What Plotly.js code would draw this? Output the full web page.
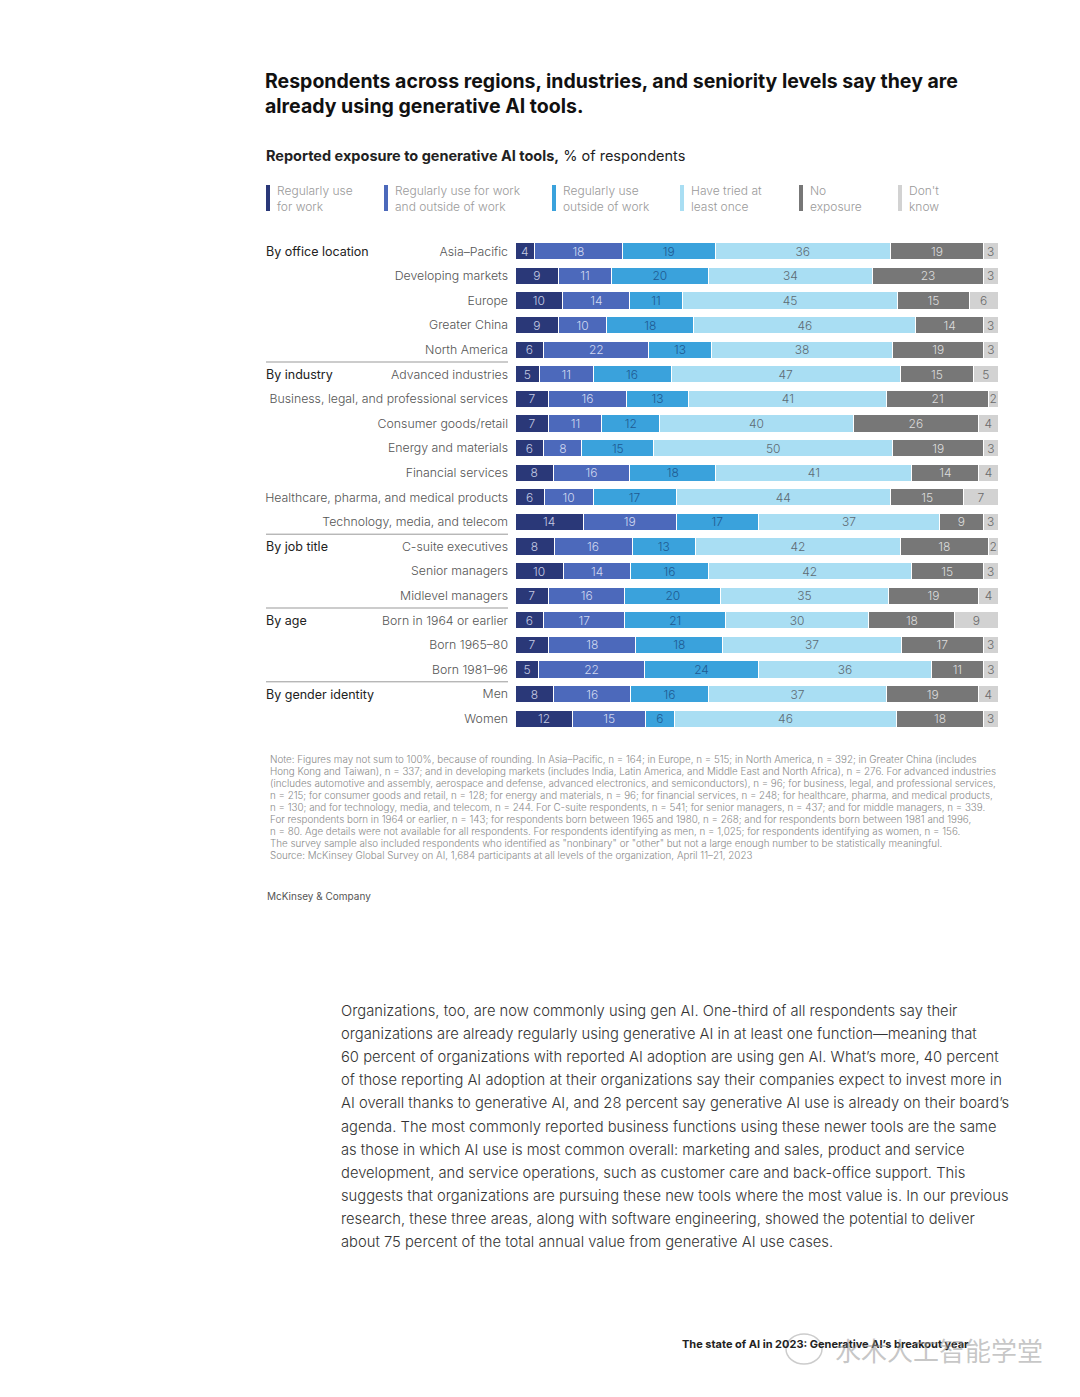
<!DOCTYPE html>
<html>
<head>
<meta charset="utf-8">
<script src="https://cdn.plot.ly/plotly-3.0.1.min.js"></script>
<style>html,body{margin:0;padding:0;background:#fff;}#chart{width:1080px;height:1397px;}</style>
</head>
<body>
<div id="chart"></div>
<script>
// ---------- DATA ----------
const categories = [
  "Asia–Pacific","Developing markets","Europe","Greater China","North America",
  "Advanced industries","Business, legal, and professional services","Consumer goods/retail",
  "Energy and materials","Financial services","Healthcare, pharma, and medical products",
  "Technology, media, and telecom",
  "C-suite executives","Senior managers","Midlevel managers",
  "Born in 1964 or earlier","Born 1965–80","Born 1981–96",
  "Men","Women"
];
const seriesNames = ["Regularly use<br>for work","Regularly use for work<br>and outside of work","Regularly use<br>outside of work","Have tried at<br>least once","No<br>exposure","Don't<br>know"];
const useForWork        = [4,9,10,9,6, 5,7,7,6,8,6,14, 8,10,7, 6,7,5, 8,12];
const useWorkAndOutside = [18,11,14,10,22, 11,16,11,8,16,10,19, 16,14,16, 17,18,22, 16,15];
const useOutsideWork    = [19,20,11,18,13, 16,13,12,15,18,17,17, 13,16,20, 21,18,24, 16,6];
const triedOnce         = [36,34,45,46,38, 47,41,40,50,41,44,37, 42,42,35, 30,37,36, 37,46];
const noExposure        = [19,23,15,14,19, 15,21,26,19,14,15,9, 18,15,19, 18,17,11, 19,18];
const dontKnow          = [3,3,6,3,3, 5,2,4,3,4,7,3, 2,3,4, 9,3,3, 4,3];
const groupLabels = [
  {label:"By office location", at:"Asia–Pacific"},
  {label:"By industry", at:"Advanced industries"},
  {label:"By job title", at:"C-suite executives"},
  {label:"By age", at:"Born in 1964 or earlier"},
  {label:"By gender identity", at:"Men"}
];
const noteLines = [
  "Note: Figures may not sum to 100%, because of rounding. In Asia–Pacific, n = 164; in Europe, n = 515; in North America, n = 392; in Greater China (includes",
  "Hong Kong and Taiwan), n = 337; and in developing markets (includes India, Latin America, and Middle East and North Africa), n = 276. For advanced industries",
  "(includes automotive and assembly, aerospace and defense, advanced electronics, and semiconductors), n = 96; for business, legal, and professional services,",
  "n = 215; for consumer goods and retail, n = 128; for energy and materials, n = 96; for financial services, n = 248; for healthcare, pharma, and medical products,",
  "n = 130; and for technology, media, and telecom, n = 244. For C-suite respondents, n = 541; for senior managers, n = 437; and for middle managers, n = 339.",
  "For respondents born in 1964 or earlier, n = 143; for respondents born between 1965 and 1980, n = 268; and for respondents born between 1981 and 1996,",
  "n = 80. Age details were not available for all respondents. For respondents identifying as men, n = 1,025; for respondents identifying as women, n = 156.",
  "The survey sample also included respondents who identified as \"nonbinary\" or \"other\" but not a large enough number to be statistically meaningful.",
  "Source: McKinsey Global Survey on AI, 1,684 participants at all levels of the organization, April 11–21, 2023"
];
const bodyLines = [
  "Organizations, too, are now commonly using gen AI. One-third of all respondents say their",
  "organizations are already regularly using generative AI in at least one function—meaning that",
  "60 percent of organizations with reported AI adoption are using gen AI. What’s more, 40 percent",
  "of those reporting AI adoption at their organizations say their companies expect to invest more in",
  "AI overall thanks to generative AI, and 28 percent say generative AI use is already on their board’s",
  "agenda. The most commonly reported business functions using these newer tools are the same",
  "as those in which AI use is most common overall: marketing and sales, product and service",
  "development, and service operations, such as customer care and back-office support. This",
  "suggests that organizations are pursuing these new tools where the most value is. In our previous",
  "research, these three areas, along with software engineering, showed the potential to deliver",
  "about 75 percent of the total annual value from generative AI use cases."
];

// ---------- STYLE ----------
const FONT = "Inter, 'Noto Sans', sans-serif";
const colors = ["#2a3878","#4c69bb","#3aa2dc","#a9def3","#777777","#d2d2d2"];
const textColors = ["#c4cae3","#d0d8f0","#1f5a92","#5d6b73","#dcdcdc","#6a6a6a"];
const allSeries = [useForWork,useWorkAndOutside,useOutsideWork,triedOnce,noExposure,dontKnow];

const W=1080,H=1397, L=515, R=998, T=239, B=731;
const px = x => (x-L)/(R-L);
const py = y => (B-y)/(B-T);

const traces = allSeries.map((vals,i)=>({
  type:'bar', orientation:'h', name:seriesNames[i],
  y:categories, x:vals, text:vals.map(String),
  textposition:'inside', insidetextanchor:'middle', textangle:0,
  textfont:{family:FONT,size:12,color:textColors[i],weight:300},
  marker:{color:colors[i], line:{color:'#ffffff',width:1}},
  hoverinfo:'skip', showlegend:false
}));

const annotations = [];
const shapes = [];

// subtitle
annotations.push({xref:'paper',yref:'paper',x:px(264),y:py(155),xanchor:'left',yanchor:'middle',showarrow:false,
  text:"<b>Reported exposure to generative AI tools,</b> % of respondents",font:{family:FONT,size:14.5,color:'#222'}});

// legend
const legX=[266,384,552,680,799,898];
seriesNames.forEach((n,i)=>{
  shapes.push({type:'rect',xref:'paper',yref:'paper',x0:px(legX[i]),x1:px(legX[i]+4),y0:py(211),y1:py(185),fillcolor:colors[i],line:{width:0}});
  annotations.push({xref:'paper',yref:'paper',x:px(legX[i]+9),y:py(181),xanchor:'left',yanchor:'top',align:'left',showarrow:false,
    text:n,font:{family:FONT,size:12,color:'#9a9a9a',weight:300}});
});

// group labels and separators
groupLabels.forEach((g,gi)=>{
  annotations.push({xref:'paper',yref:'y',x:px(264),y:g.at,xanchor:'left',yanchor:'middle',showarrow:false,
    text:g.label,font:{family:FONT,size:12.5,color:'#222'}});
  if(gi>0){
    const idx=categories.indexOf(g.at)-0.5;
    shapes.push({type:'line',xref:'paper',yref:'y',x0:px(266),x1:px(508),y0:idx,y1:idx,line:{color:'#999',width:1}});
  }
});

// notes
noteLines.forEach((t,i)=>{
  annotations.push({xref:'paper',yref:'paper',x:px(268),y:py(759+i*12),xanchor:'left',yanchor:'middle',showarrow:false,
    text:t,font:{family:FONT,size:9.8,color:'#8a8a8a',weight:300}});
});
annotations.push({xref:'paper',yref:'paper',x:px(265),y:py(896),xanchor:'left',yanchor:'middle',showarrow:false,
  text:"McKinsey & Company",font:{family:FONT,size:10,color:'#555'}});

// body text
bodyLines.forEach((t,i)=>{
  annotations.push({xref:'paper',yref:'paper',x:px(339),y:py(1011+i*23.1),xanchor:'left',yanchor:'middle',showarrow:false,
    text:t,font:{family:FONT,size:14.75,color:'#333',weight:300}});
});

// footer + watermark
annotations.push({xref:'paper',yref:'paper',x:px(680),y:py(1344),xanchor:'left',yanchor:'middle',showarrow:false,
  text:"<b>The state of AI in 2023: Generative AI’s breakout year</b>",font:{family:FONT,size:11,color:'#222'}});
annotations.push({xref:'paper',yref:'paper',x:px(1045),y:py(1350),xanchor:'right',yanchor:'middle',showarrow:false,
  text:"水木人工智能学堂",font:{family:"'Noto Sans CJK SC', sans-serif",size:26,color:'rgba(150,150,150,0.55)'}});
shapes.push({type:'circle',xref:'paper',yref:'paper',x0:px(786),x1:px(822),y0:py(1364),y1:py(1334),line:{color:'rgba(170,170,170,0.6)',width:1.5},fillcolor:'rgba(0,0,0,0)'});

const layout = {
  width:W,height:H,
  margin:{l:L,r:W-R,t:T,b:H-B,pad:0},
  paper_bgcolor:'#fff',plot_bgcolor:'#fff',
  barmode:'stack', barnorm:'percent', bargap:0.3,
  uniformtext:{mode:'show',minsize:12},
  title:{text:"<b>Respondents across regions, industries, and seniority levels say they are<br>already using generative AI tools.</b>",
    xref:'container',yref:'container',x:265/W,xanchor:'left',y:1-88/H,yanchor:'top',
    font:{family:FONT,size:19.5,color:'#111'}},
  xaxis:{visible:false,range:[0,100],fixedrange:true},
  yaxis:{type:'category',autorange:'reversed',showgrid:false,zeroline:false,showline:false,ticks:'',
    ticklabelstandoff:6,tickfont:{family:FONT,size:12.3,color:'#555',weight:300}},
  annotations:annotations, shapes:shapes, showlegend:false
};
Plotly.newPlot('chart',traces,layout,{staticPlot:true});
</script>
</body>
</html>
